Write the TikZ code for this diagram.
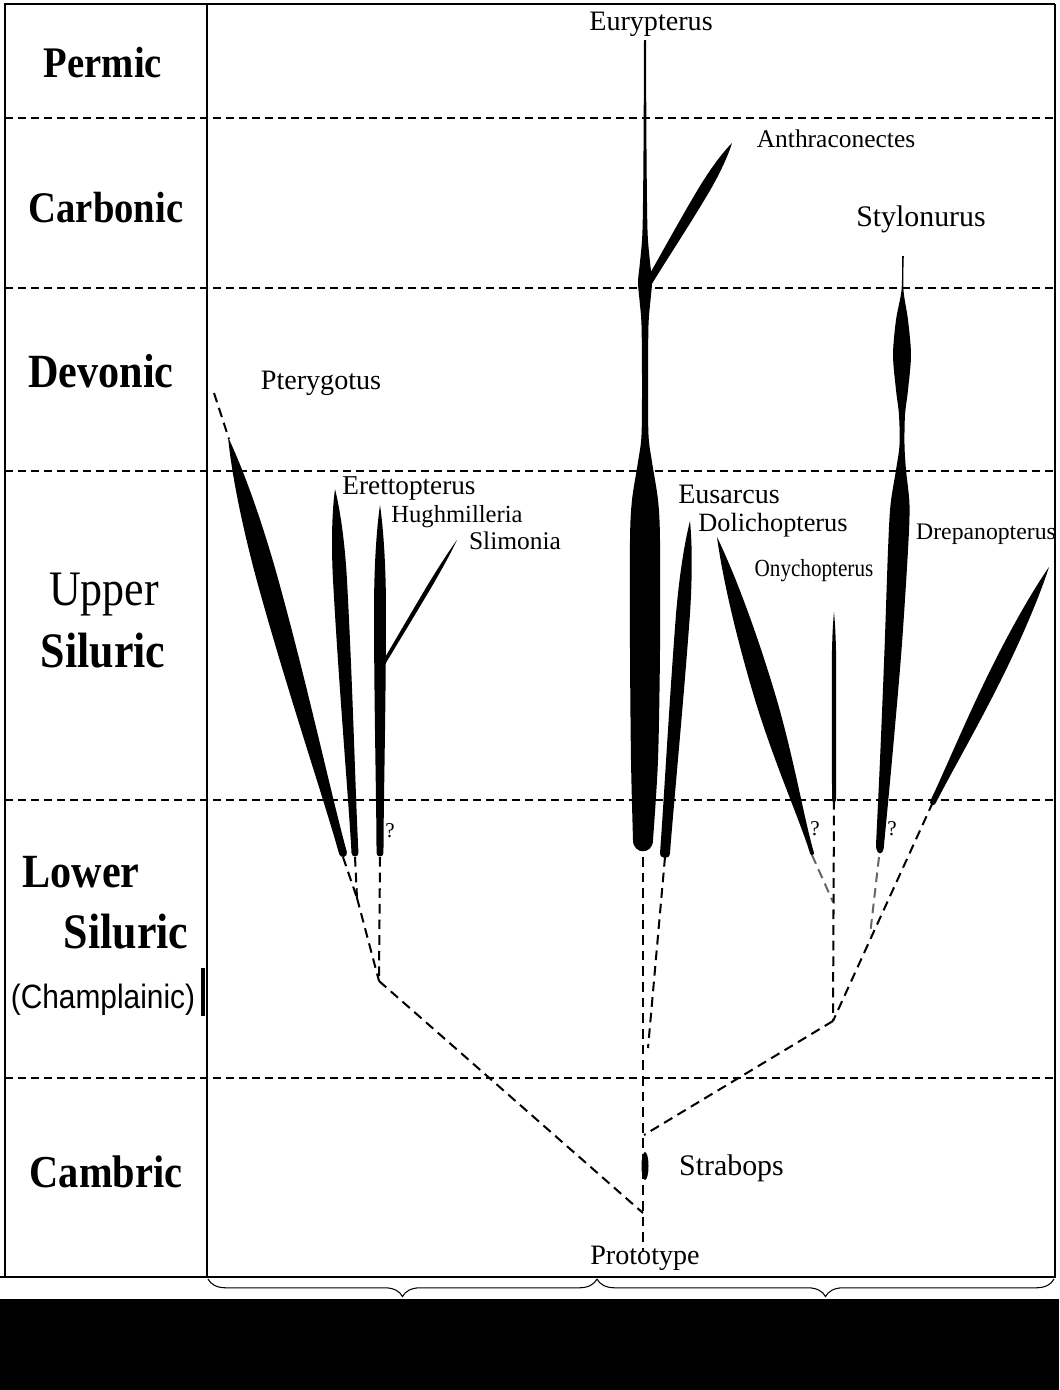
\documentclass[tikz,border=0pt]{standalone}
\usepackage{fontspec}
\setmainfont{Liberation Serif}
\newfontfamily\champfont{Liberation Sans}
\usetikzlibrary{calc, decorations.pathreplacing}

% tapered blade: tip, end, fraction where widest, half width, end half width (px)
\newcommand\blade[5]{%
  \pgfmathsetmacro\bldfa{0.3*#3}%
  \pgfmathsetmacro\bldfb{0.7*#3}%
  \pgfmathsetmacro\bldfc{#3+0.4*(1-#3)}%
  \pgfmathsetmacro\bldfd{1-0.2*(1-#3)}%
  \pgfmathsetmacro\bldwa{0.75*#4*0.5669}%
  \pgfmathsetmacro\bldwm{#4*0.5669}%
  \pgfmathsetmacro\bldwb{#5*0.5669}%
  \pgfmathsetmacro\bldwc{-1.33*#5*0.5669}%
  \fill[taxon] (#1)
    .. controls ($(#1)!\bldfa!(#2)!\bldwa pt!-90:(#1)$) and ($(#1)!\bldfb!(#2)!\bldwm pt!-90:(#1)$)
    .. ($(#1)!#3!(#2)!\bldwm pt!-90:(#1)$)
    .. controls ($(#1)!\bldfc!(#2)!\bldwm pt!-90:(#1)$) and ($(#1)!\bldfd!(#2)!\bldwb pt!-90:(#1)$)
    .. ($(#1)!1!(#2)!\bldwb pt!-90:(#1)$)
    .. controls ($(#2)!\bldwc pt!(#1)!\bldwb pt!-90:(#1)$) and ($(#2)!\bldwc pt!(#1)!\bldwb pt!90:(#1)$)
    .. ($(#1)!1!(#2)!\bldwb pt!90:(#1)$)
    .. controls ($(#1)!\bldfd!(#2)!\bldwb pt!90:(#1)$) and ($(#1)!\bldfc!(#2)!\bldwm pt!90:(#1)$)
    .. ($(#1)!#3!(#2)!\bldwm pt!90:(#1)$)
    .. controls ($(#1)!\bldfb!(#2)!\bldwm pt!90:(#1)$) and ($(#1)!\bldfa!(#2)!\bldwa pt!90:(#1)$)
    .. (#1) -- cycle;
}
% taller letters for the period column
\newcommand\tallword[1]{\scalebox{1}[1.13]{#1}}

\begin{document}
\begin{tikzpicture}[x=0.02cm, y=-0.02cm,
    frame/.style={line width=1.6pt},
    era/.style={line width=0.85pt, dash pattern=on 4.5pt off 2.9pt},
    lineage/.style={line width=1.15pt, dash pattern=on 5.5pt off 3.4pt},
    taxon/.style={fill=black},
    period/.style={font=\fontsize{#1}{#1}\selectfont\bfseries, anchor=base},
    period/.default=23,
    genus/.style={font=\fontsize{#1}{#1}\selectfont, anchor=base},
    genus/.default=16,
    bracebelow/.style={decorate, decoration={brace, mirror, amplitude=10pt}, line width=0.6pt}
    ]
    \useasboundingbox (0,0) rectangle (1059,1390);

    % Frame and era boundaries
    \draw[frame] (5,1277) -- (5,4) -- (1055,4);
    \draw[line width=1.1pt] (1055,4) -- (1055,1277);
    \draw[frame] (0,1277) -- (1056,1277);
    \draw[line width=0.85pt] (207,4) -- (207,1277);
    \draw[line width=2pt] (203,968) -- (203,1016);
    \foreach \y in {118,288,471,800,1078}
        \draw[era] (5,\y) -- (1055,\y);

    % Periods
    \node[period=22] (permic) at (103,77) {\tallword{Permic}};
    \node[period=22] (carbonic) at (106,222) {\tallword{Carbonic}};
    \node[period=24] (devonic) at (101,387) {\tallword{Devonic}};
    \node[period=25, font=\fontsize{25}{25}\selectfont] (upper) at (104,605) {\tallword{Upper}};
    \node[period=25] (siluricup) at (103,667) {\tallword{Siluric}};
    \node[period=24] (lower) at (81,887) {\tallword{Lower}};
    \node[period=25] (siluriclow) at (126,948) {\tallword{Siluric}};
    \node[font=\champfont\fontsize{17}{17}\selectfont, anchor=base] (champlainic) at (103,1008) {\tallword{(Champlainic)}};
    \node[period=23] (cambric) at (106,1187) {\tallword{Cambric}};

    % Eurypterus stem
    \fill[taxon] plot[smooth] coordinates {(644,40) (643.5,150) (642.5,230) (640,262) (638,282)
        (639.5,300) (641.5,325) (642,380) (641.5,435) (638,462) (632,500) (630,540) (630,650)
        (631,760) (633,840)}
        .. controls (633,855) and (653,855) .. (653,840)
        -- plot[smooth] coordinates {(653,840) (658,760) (660,650) (660,540) (658,500) (652,462)
        (648.5,435) (648,380) (648.5,325) (650.5,300) (652,282) (650,262) (647.5,230) (646.5,150)
        (646,40)} -- cycle;

    % Stylonurus stem
    \fill[taxon] plot[smooth] coordinates {(902.2,256) (901.5,290) (896,320) (893,355) (896,390)
        (899,415) (899.5,445) (896,470) (890.5,505) (888,550) (884.5,650) (880,760) (876,845)}
        .. controls (876,856) and (884,856) .. (884,845)
        -- plot[smooth] coordinates {(884,845) (892,760) (901.5,650) (908,550) (909.5,505)
        (906,470) (904.5,445) (905,415) (908,390) (911,355) (908,320) (903.5,290) (903.8,256)}
        -- cycle;

    % Blades
    \blade{228,437}{343,853}{0.35}{10.5}{4}    % Pterygotus
    \blade{335,489}{355,853}{0.25}{7}{3.5}     % Erettopterus
    \blade{380,505}{380,853}{0.3}{6}{3.5}      % Hughmilleria
    \blade{457,540}{382,666}{0.4}{2.2}{1.8}    % Slimonia
    \blade{732,143}{649,282}{0.35}{5.5}{3.5}   % Anthraconectes
    \blade{690,521}{665,853}{0.3}{7}{5}        % Eusarcus
    \blade{717,537}{812,853}{0.5}{10.5}{2}     % Dolichopterus
    \blade{834,612}{834,800}{0.3}{2.2}{2}      % Onychopterus
    \blade{1049,567}{933,802}{0.45}{7}{3}      % Drepanopterus
    \fill[taxon] (645,1166) ellipse [x radius=3.5, y radius=14]; % Strabops

    % Branch points
    \coordinate (ptstart) at (214,393);
    \coordinate (pttop) at (229,439);
    \coordinate (ptend) at (343,857);
    \coordinate (erend) at (355,857);
    \coordinate (huend) at (380,857);
    \coordinate (euend) at (643,857);
    \coordinate (esend) at (665,857);
    \coordinate (doend) at (812,855);
    \coordinate (onend) at (834,800);
    \coordinate (stend) at (879,857);
    \coordinate (drend) at (933,802);
    \coordinate (jer) at (357,898);
    \coordinate (jhu) at (379,981);
    \coordinate (jproto) at (643,1213);
    \coordinate (protoend) at (643,1252);
    \coordinate (jes) at (648,1048);
    \coordinate (jdo) at (833,902);
    \coordinate (jst) at (870,935);
    \coordinate (jon) at (833,1021);
    \coordinate (jright) at (644,1135);

    % Lineages
    \draw[lineage] (ptstart) -- (pttop);
    \draw[lineage] (ptend) -- (jer);
    \draw[lineage] (erend) -- (jer);
    \draw[lineage] (jer) -- (jhu);
    \draw[lineage] (huend) -- (jhu);
    \draw[lineage] (jhu) -- (jproto);
    \draw[lineage] (euend) -- (protoend);
    \draw[lineage] (esend) -- (jes);
    \draw[lineage, black!60] (doend) -- (jdo);
    \draw[lineage] (onend) -- (jon);
    \draw[lineage, black!60] (stend) -- (jst);
    \draw[lineage] (drend) -- (jon);
    \draw[lineage] (jon) -- (jright);

    % Genera
    \node[genus] (eurypterus) at (651,30) {Eurypterus};
    \node[genus=14.5] (anthraconectes) at (836,147) {Anthraconectes};
    \node[genus=17] (stylonurus) at (921,226) {Stylonurus};
    \node[genus] (pterygotus) at (321,389) {Pterygotus};
    \node[genus=15.5] (erettopterus) at (409,494) {Erettopterus};
    \node[genus=14] (hughmilleria) at (457,522) {Hughmilleria};
    \node[genus=14.5] (slimonia) at (515,549) {Slimonia};
    \node[genus] (eusarcus) at (729,503) {Eusarcus};
    \node[genus=15] (dolichopterus) at (773,531) {Dolichopterus};
    \node[genus=14] (onychopterus) at (814,576) {\scalebox{0.86}[1]{Onychopterus}};
    \node[genus=13.5, anchor=base west] (drepanopterus) at (910,539) {Drepanopterus};
    \node[genus=17, anchor=base west] (strabops) at (673,1175) {Strabops};
    \node[genus] (prototype) at (645,1264) {Prototype};
    \node[genus=12] (qhu) at (390,837) {?};
    \node[genus=12] (qdo) at (815,835) {?};
    \node[genus=12] (qst) at (892,835) {?};

    % Braces under the frame
    \draw[bracebelow] (208,1279) -- (597,1279);
    \draw[bracebelow] (597,1279) -- (1054,1279);

    \fill[black] (0,1299) rectangle (1059,1390);
\end{tikzpicture}
\end{document}
